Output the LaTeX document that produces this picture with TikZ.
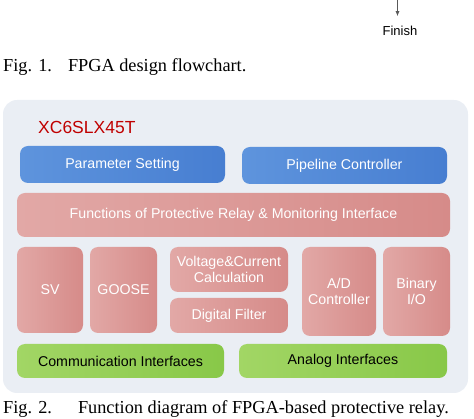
\documentclass[tikz,border=0pt]{standalone}
\usepackage{fontspec}
\setmainfont{Liberation Serif}
\newfontfamily\arialfont{Liberation Sans}
\usetikzlibrary{calc,arrows.meta,positioning}

\definecolor{chipBg}{HTML}{EAEEF4}
\definecolor{blueL}{HTML}{5E94DD}
\definecolor{blueR}{HTML}{477ED1}
\definecolor{redL}{HTML}{E2A8A6}
\definecolor{redR}{HTML}{D68B89}
\definecolor{greenL}{HTML}{A2D665}
\definecolor{greenR}{HTML}{88C848}
\definecolor{chipRed}{HTML}{C00000}

\begin{document}
\begin{tikzpicture}[x=1pt,y=-1pt,
    boxtext/.style={font=\arialfont\fontsize{14.2}{16.5}\selectfont,align=center,
        inner sep=0pt,rounded corners=8pt},
    bluebox/.style={boxtext,text=white,left color=blueL,right color=blueR},
    redbox/.style={boxtext,text=white,left color=redL,right color=redR},
    greenbox/.style={boxtext,text=black,left color=greenL,right color=greenR},
    caption/.style={font=\fontsize{18.3}{20}\selectfont,anchor=base west,inner sep=0pt}
]

\useasboundingbox (0,0) rectangle (474,419);

\coordinate (cArrowTop) at (397.5,-1);
\node[font=\arialfont\fontsize{13}{15}\selectfont,inner sep=1pt] (cFinish) at (400,31) {Finish};
\draw[-{Latex[length=5pt,width=4pt]},thin,gray!70!black,shorten >=9pt]
    (cArrowTop) -- (cArrowTop |- cFinish.north);

\node[caption] (cFigOne) at (3,72) {Fig. 1.\hspace{16pt}FPGA design flowchart.};

\node[fill=chipBg,rounded corners=14pt,minimum width=465pt,minimum height=293pt,
    inner sep=0pt] (cChipBox) at (235.5,246.5) {};
\node[font=\arialfont\fontsize{17.5}{20}\selectfont,text=chipRed,anchor=base west,
    inner sep=0pt] (cChipName) at (38,134) {XC6SLX45T};

\node[bluebox,minimum width=205pt,minimum height=37pt] (cParamBox) at (122.5,164.5) {Parameter Setting};
\node[bluebox,minimum width=205pt,minimum height=37pt] (cPipeBox) at (344.5,165.5) {Pipeline Controller};

\node[redbox,minimum width=433pt,minimum height=44pt] (cFuncBox) at (233.5,215)
    {Functions of Protective Relay \& Monitoring Interface};

\node[redbox,minimum width=66pt,minimum height=86pt] (cSvBox) at (50,290) {SV};
\node[redbox,minimum width=67pt,minimum height=86pt] (cGooseBox) at (123.5,290) {GOOSE};
\node[redbox,minimum width=118pt,minimum height=45pt] (cCalcBox) at (229,269.5) {Voltage\&Current\\Calculation};
\node[redbox,minimum width=118pt,minimum height=35pt] (cFilterBox) at (229,315.5) {Digital Filter};
\node[redbox,minimum width=74pt,minimum height=89pt] (cAdBox) at (339,291.5) {A/D\\Controller};
\node[redbox,minimum width=67pt,minimum height=89pt] (cBinBox) at (416.5,291.5) {Binary\\I/O};

\node[greenbox,minimum width=207pt,minimum height=34pt] (cCommBox) at (120.5,361) {Communication Interfaces};
\node[greenbox,minimum width=208pt,minimum height=34pt] (cAnaBox) at (343,361) {Analog Interfaces};

\node[caption] (cFigTwo) at (3,414) {Fig. 2.\hspace{26pt}Function diagram of FPGA-based protective relay.};

\end{tikzpicture}
\end{document}
